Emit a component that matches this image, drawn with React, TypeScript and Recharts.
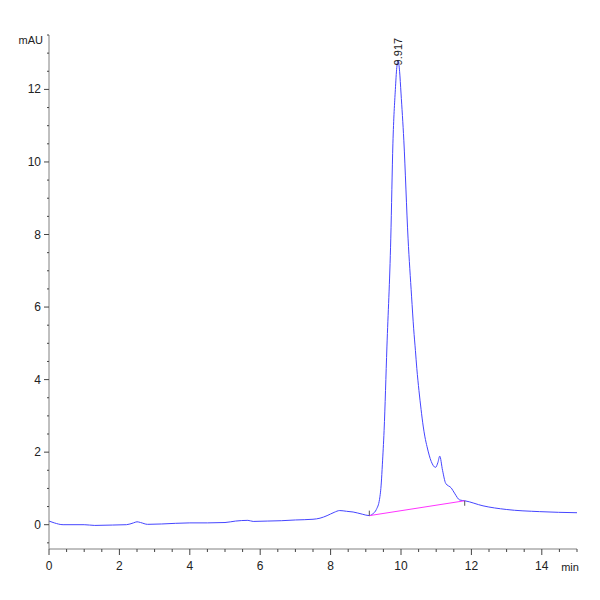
import { Line, LineChart, ReferenceDot, XAxis, YAxis } from "recharts";

// retention time (min) and absorbance (mAU)
const TIMES = [
  0, 0.15, 0.4, 1.0, 1.3, 1.8, 2.2, 2.4, 2.5, 2.6, 2.8, 3.2, 4.0, 4.5, 5.0,
  5.3, 5.65, 5.8, 6.2, 6.6, 7.0, 7.5, 7.7, 7.9, 8.1, 8.26, 8.45, 8.64, 8.9,
  9.1, 9.2, 9.3, 9.39, 9.44, 9.47, 9.52, 9.6, 9.71, 9.77, 9.84, 9.88, 9.917,
  9.96, 10.0, 10.08, 10.2, 10.3, 10.36, 10.41, 10.45, 10.51, 10.57, 10.63,
  10.68, 10.74, 10.86, 10.98, 11.05, 11.1, 11.18, 11.27, 11.43, 11.52, 11.67,
  11.81, 12.33, 12.99, 13.94, 15.0,
];
const SIGNAL = [
  0.1, 0.05, 0.0, 0.0, -0.02, -0.01, 0.0, 0.05, 0.08, 0.06, 0.01, 0.02, 0.05,
  0.05, 0.06, 0.1, 0.12, 0.09, 0.1, 0.11, 0.13, 0.15, 0.18, 0.25, 0.34, 0.39,
  0.37, 0.35, 0.29, 0.25, 0.3, 0.42, 0.7, 1.15, 1.65, 2.6, 4.9, 7.9, 10.5, 12.0,
  12.6, 12.8, 12.5, 11.9, 10.6, 7.9, 6.3, 5.4, 4.8, 4.3, 3.7, 3.18, 2.72, 2.42,
  2.15, 1.74, 1.58, 1.72, 1.89, 1.5, 1.14, 1.01, 0.87, 0.68, 0.66, 0.52, 0.42,
  0.36, 0.33,
];

// integration baseline under the main peak
const BASE_TIMES = [9.1, 11.81];
const BASE_SIGNAL = [0.25, 0.66];

const PEAK_TIME = 9.917;
const PEAK_HEIGHT = 12.8;
const PEAK_LABEL = "9.917";

const X_LABELS = [0, 2, 4, 6, 8, 10, 12, 14];
const Y_LABELS = [0, 2, 4, 6, 8, 10, 12];
const X_TICKS = Array.from({ length: 31 }, (_, i) => i * 0.5);
const Y_TICKS = Array.from({ length: 29 }, (_, i) => -0.5 + i * 0.5);

const trace = TIMES.map((t, i) => ({ t, v: SIGNAL[i] }));
const baseline = BASE_TIMES.map((t, i) => ({ t, v: BASE_SIGNAL[i] }));

const FONT = "'Liberation Sans Narrow', 'Liberation Sans', Arial, sans-serif";
const AXIS = "#808080";

function XTick({ x, y, payload }: any) {
  const major = X_LABELS.includes(payload.value);
  return (
    <g>
      <line x1={x} y1={y} x2={x} y2={y + (major ? 6 : 3)} stroke="#444" />
      {major && (
        <text x={x} y={y + 21} textAnchor="middle" fontSize={12} fontFamily={FONT} fill="#222">
          {payload.value}
        </text>
      )}
    </g>
  );
}

function YTick({ x, y, payload }: any) {
  const major = Y_LABELS.includes(payload.value);
  return (
    <g>
      <line x1={x - (major ? 5 : 2)} y1={y} x2={x} y2={y} stroke="#444" />
      {major && (
        <text x={x - 8} y={y + 4} textAnchor="end" fontSize={12} fontFamily={FONT} fill="#222">
          {payload.value}
        </text>
      )}
    </g>
  );
}

export default function App() {
  return (
    <div style={{ position: "absolute", left: 0, top: 0, background: "#fff" }}>
      <LineChart
        width={600}
        height={600}
        data={trace}
        margin={{ top: 35, right: 23, bottom: 21, left: 9 }}
      >
        <XAxis
          dataKey="t"
          type="number"
          domain={[0, 15]}
          ticks={X_TICKS}
          interval={0}
          allowDataOverflow
          height={30}
          tickSize={0}
          tickMargin={0}
          stroke={AXIS}
          tick={<XTick />}
          label={{
            content: ({ viewBox }: any) => (
              <text
                x={viewBox.x + viewBox.width - 7}
                y={viewBox.y + 22}
                textAnchor="middle"
                fontSize={11}
                fontFamily={FONT}
                fill="#222"
              >
                min
              </text>
            ),
          }}
        />
        <YAxis
          type="number"
          domain={[-0.67, 13.5]}
          ticks={Y_TICKS}
          interval={0}
          allowDataOverflow
          width={40}
          tickSize={0}
          tickMargin={0}
          stroke={AXIS}
          tick={<YTick />}
          label={{
            content: ({ viewBox }: any) => (
              <text
                x={viewBox.x + viewBox.width - 6}
                y={viewBox.y + 9}
                textAnchor="end"
                fontSize={11}
                fontFamily={FONT}
                fill="#222"
              >
                mAU
              </text>
            ),
          }}
        />
        <Line
          dataKey="v"
          type="monotone"
          stroke="#4545ff"
          strokeWidth={1}
          dot={false}
          isAnimationActive={false}
        />
        <Line
          data={baseline}
          dataKey="v"
          type="linear"
          stroke="#ff33ff"
          strokeWidth={1}
          dot={false}
          isAnimationActive={false}
        />
        <ReferenceDot
          x={BASE_TIMES[0]}
          y={BASE_SIGNAL[0]}
          r={0}
          shape={({ cx, cy }: any) => (
            <line x1={cx} y1={cy - 5} x2={cx} y2={cy} stroke="#555" />
          )}
        />
        <ReferenceDot
          x={BASE_TIMES[1]}
          y={BASE_SIGNAL[1]}
          r={0}
          shape={({ cx, cy }: any) => (
            <line x1={cx} y1={cy} x2={cx} y2={cy + 5} stroke="#555" />
          )}
        />
        <ReferenceDot
          x={PEAK_TIME}
          y={PEAK_HEIGHT}
          r={0}
          shape={({ cx, cy }: any) => (
            <text
              x={cx}
              y={cy + 5}
              transform={`rotate(-90 ${cx} ${cy + 5})`}
              textAnchor="start"
              dominantBaseline="central"
              fontSize={11}
              fontFamily={FONT}
              fill="#222"
            >
              {PEAK_LABEL}
            </text>
          )}
        />
      </LineChart>
    </div>
  );
}
